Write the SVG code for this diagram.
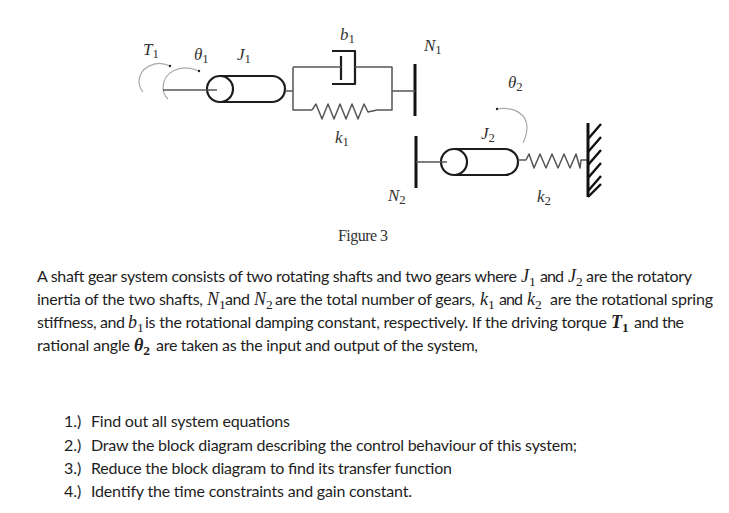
<svg xmlns="http://www.w3.org/2000/svg" width="729" height="513" viewBox="0 0 729 513">
<style>
.b{fill:none;stroke:#1c1c1c;stroke-width:2.2;stroke-linejoin:round}
.t{fill:none;stroke:#555;stroke-width:1.5;stroke-linejoin:round}
.g{fill:none;stroke:#aaa;stroke-width:1.2}
.k{fill:none;stroke:#111;stroke-width:3}
.d{fill:#222}
.l{font:italic 17px "Liberation Serif",serif;fill:#333}
.l tspan,.m tspan,.n tspan{font-size:.75em;font-style:normal}
.f{font:16px "Liberation Serif",serif;fill:#333}
.x{font:16px Lato,sans-serif;fill:#1e1e1e}
.m{font:italic 18px "Liberation Serif",serif;fill:#222}
.n{font:italic bold 18px "Liberation Serif",serif;fill:#222}
.n tspan{font-weight:bold}
</style>
<g id="torque-T1">
<path class="g" d="M170 66C155 59 139 68 139 82C139 84 140 88 143 92"/><circle class="d" cx="170" cy="66" r="1.2"/>
<text class="l" x="143" y="55">T<tspan dy="3">1</tspan></text>
</g>
<g id="angle-theta1">
<path class="g" d="M199 71C180 63 163 72 163 88C163 92 165 96 168 99"/><circle class="d" cx="199" cy="71" r="1.2"/>
<text class="l" x="194" y="60">θ<tspan dy="3">1</tspan></text>
</g>
<g id="inertia-J1">
<path class="b" d="M220 76H272A13 13 0 0 1 272 102H220"/><circle class="b" cx="220" cy="89" r="13"/>
<text class="l" x="237" y="60">J<tspan dy="3">1</tspan></text>
</g>
<g id="damper-b1">
<path class="b" d="M341 56V80M332 51H355V84H332"/>
<text class="l" x="340" y="40">b<tspan dy="3">1</tspan></text>
</g>
<g id="spring-k1">
<path class="t" d="M312 110L316 104L322 119L328 104L334 119L340 104L346 119L352 104L358 119L364 104L368 112L377 110"/>
<text class="l" x="335" y="143">k<tspan dy="3">1</tspan></text>
</g>
<g id="gear-N1">
<path class="k" d="M415 64V116"/>
<text class="l" x="424" y="51">N<tspan dy="3">1</tspan></text>
</g>
<g id="gear-N2">
<path class="k" d="M416 136V188"/>
<text class="l" x="388" y="201">N<tspan dy="3">2</tspan></text>
</g>
<g id="inertia-J2">
<path class="b" d="M454 149H505A13 13 0 0 1 505 175H454"/><circle class="b" cx="454" cy="162" r="13"/>
<text class="l" x="481" y="139">J<tspan dy="3">2</tspan></text>
</g>
<g id="angle-theta2">
<path class="g" d="M497 109C515 106 527 115 527 127C527 133 525 139 523 143"/><circle class="d" cx="497" cy="109" r="1.2"/>
<text class="l" x="508" y="88">θ<tspan dy="3">2</tspan></text>
</g>
<g id="spring-k2">
<path class="t" d="M518 160H526L529 154L534 168L540 154L546 168L552 154L558 168L564 154L570 168L576 154L580 168L581 160H587"/>
<text class="l" x="537" y="202">k<tspan dy="3">2</tspan></text>
</g>
<g id="wall">
<path class="k" d="M588 123V197"/>
<path class="k" style="stroke-width:2.4" d="M588 139L601 124M588 152L601 137M588 165L601 150M588 178L601 163M588 191L601 176M588 197L601 184"/>
</g>
<g id="connectors">
<path class="t" d="M163 90H217M285 91H293M293 67V110H312M293 67H341M355 67H392V110H377M392 91H415M416 162H447"/>
</g>
<text class="f" x="338" y="241" textLength="50">Figure 3</text>
<g id="paragraph">
<text class="x" x="37" y="282" textLength="480">A shaft gear system consists of two rotating shafts and two gears where</text>
<text class="m" x="521" y="282">J<tspan dy="4">1</tspan></text>
<text class="x" x="540" y="282" textLength="24">and</text>
<text class="m" x="568" y="282">J<tspan dy="4">2</tspan></text>
<text class="x" x="586" y="282" textLength="106">are the rotatory</text>
<text class="x" x="37" y="305" textLength="166">inertia of the two shafts,</text>
<text class="m" x="207" y="305">N<tspan dy="4">1</tspan></text>
<text class="x" x="225" y="305" textLength="25">and</text>
<text class="m" x="254" y="305">N<tspan dy="4">2</tspan></text>
<text class="x" x="275" y="305" textLength="200">are the total number of gears,</text>
<text class="m" x="480" y="305">k<tspan dy="4">1</tspan></text>
<text class="x" x="499" y="305" textLength="24">and</text>
<text class="m" x="527" y="305">k<tspan dy="4">2</tspan></text>
<text class="x" x="550" y="305" textLength="163">are the rotational spring</text>
<text class="x" x="37" y="328" textLength="88">stiffness, and</text>
<text class="m" x="128" y="328">b<tspan dy="4">1</tspan></text>
<text class="x" x="145" y="328" textLength="462">is the rotational damping constant, respectively. If the driving torque</text>
<text class="n" x="611" y="328">T<tspan dy="4">1</tspan></text>
<text class="x" x="634" y="328" textLength="50">and the</text>
<text class="x" x="37" y="351" textLength="93">rational angle</text>
<text class="n" x="134" y="351">θ<tspan dy="4">2</tspan></text>
<text class="x" x="156" y="351" textLength="322">are taken as the input and output of the system,</text>
</g>
<g id="questions">
<text class="x" x="64" y="427">1.)</text><text class="x" x="91" y="427" textLength="199">Find out all system equations</text>
<text class="x" x="64" y="451">2.)</text><text class="x" x="91" y="451" textLength="486">Draw the block diagram describing the control behaviour of this system;</text>
<text class="x" x="64" y="474">3.)</text><text class="x" x="91" y="474" textLength="361">Reduce the block diagram to find its transfer function</text>
<text class="x" x="64" y="497">4.)</text><text class="x" x="91" y="497" textLength="321">Identify the time constraints and gain constant.</text>
</g>
</svg>
